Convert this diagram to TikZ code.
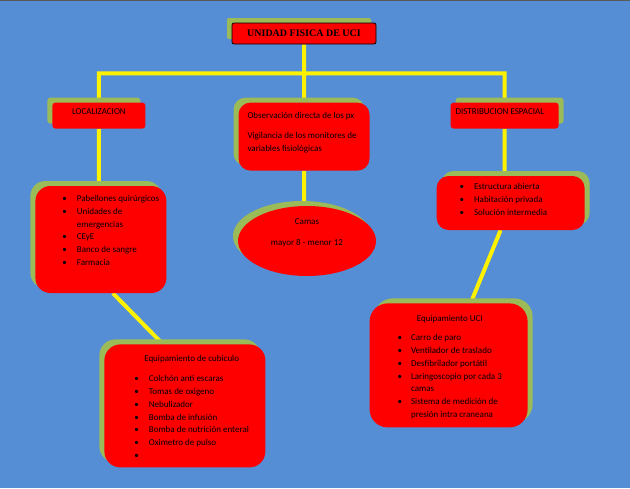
\documentclass[tikz,border=0pt]{standalone}
\usepackage{fontspec}
\setmainfont{Carlito}
\newfontfamily\titlefont{Liberation Serif}
\usetikzlibrary{positioning,shadows,backgrounds,shapes.geometric}
\definecolor{sky}{RGB}{85,142,213}
\definecolor{leaf}{RGB}{155,187,89}
\tikzset{shadow left/.style={general shadow={fill=leaf,draw=none,shadow xshift=-5pt,shadow yshift=5pt}},}
\tikzset{shadow right/.style={general shadow={fill=leaf,draw=none,shadow xshift=5pt,shadow yshift=5pt}},}
\tikzset{red box/.style={fill=red,inner sep=0pt},}
\tikzset{box text/.style={font=\fontsize{9}{12.7}\selectfont,inner sep=0pt,align=left},}
\tikzset{link/.style={draw=yellow,line width=4pt},}

\begin{document}
\begin{tikzpicture}[x=1pt,y=-1pt]
       \useasboundingbox (0,0) rectangle (630,488);

       \node[red box,shadow left,draw=black,line width=0.8pt,rounded corners=2pt,minimum width=144pt,minimum height=21pt,font=\titlefont\bfseries\fontsize{10}{12}\selectfont] (title) at (304,33.5) {UNIDAD FISICA DE UCI};

       \node[red box,shadow left,rounded corners=3pt,minimum width=93pt,minimum height=26pt] (loc) [below left=58pt and 86pt of title] {};
       \node[red box,shadow left,rounded corners=12pt,minimum width=131pt,minimum height=68pt] (obs) [below=58pt of title] {};
       \node[red box,shadow right,rounded corners=3pt,minimum width=108pt,minimum height=26pt] (dist) [below right=58pt and 74pt of title] {};

       \node[red box,shadow left,rounded corners=15pt,minimum width=131pt,minimum height=107pt] (loclist) [below=57pt of loc,xshift=2pt] {};
       \node[red box,shadow left,ellipse,minimum width=138pt,minimum height=70pt] (camas) [below=35pt of obs,xshift=3pt] {};
       \node[red box,shadow right,rounded corners=12pt,minimum width=148pt,minimum height=54pt] (distlist) [below=47pt of dist,xshift=6pt] {};

       \node[red box,shadow left,rounded corners=16pt,minimum width=161pt,minimum height=123pt] (cubic) [below=51pt of loclist,xshift=84pt] {};
       \node[red box,shadow right,rounded corners=18pt,minimum width=158pt,minimum height=124pt] (equip) [below=73pt of distlist,xshift=-62pt] {};

       % texts
       \node[box text] (loc text) at ([yshift=4pt]loc.center) {LOCALIZACION};
       \node[box text,anchor=west] (dist text) at ([xshift=5pt,yshift=-9pt]dist.north west) {DISTRIBUCION ESPACIAL};
       \node[box text,below right=10pt and 9pt of obs.north west] (obs text) {Observación directa de los px\\[7pt]Vigilancia de los monitores de\\variables fisiológicas};
       \node[box text,align=center] (camas text) at ([yshift=8pt]camas.center) {Camas\\[8pt]mayor 8 - menor 12};

       \node[box text,below right=7pt and 27pt of loclist.north west] (loclist text) {\begin{tabular}{@{}c@{\hspace{10pt}}l@{}}
         \textbullet & Pabellones quirúrgicos\\
         \textbullet & Unidades de\\
                     & emergencias\\
         \textbullet & CEyE\\
         \textbullet & Banco de sangre\\
         \textbullet & Farmacia
       \end{tabular}};
       \node[box text,below right=5pt and 23pt of distlist.north west] (distlist text) {\begin{tabular}{@{}c@{\hspace{10pt}}l@{}}
         \textbullet & Estructura abierta\\
         \textbullet & Habitación privada\\
         \textbullet & Solución intermedia
       \end{tabular}};
       \node[box text,below right=8pt and 30pt of cubic.north west] (cubic text) {\begin{tabular}{@{}c@{\hspace{10pt}}l@{}}
         \multicolumn{2}{c}{Equipamiento de cubiculo}\\[8pt]
         \textbullet & Colchón anti escaras\\
         \textbullet & Tomas de oxigeno\\
         \textbullet & Nebulizador\\
         \textbullet & Bomba de infusión\\
         \textbullet & Bomba de nutrición enteral\\
         \textbullet & Oximetro de pulso\\
         \textbullet &
       \end{tabular}};
       \node[box text,below right=9pt and 28pt of equip.north west] (equip text) {\begin{tabular}{@{}c@{\hspace{9pt}}l@{}}
         \multicolumn{2}{c}{Equipamiento UCI}\\[7pt]
         \textbullet & Carro de paro\\
         \textbullet & Ventilador de traslado\\
         \textbullet & Desfibrilador portátil\\
         \textbullet & Laringoscopio por cada 3\\
                     & camas\\
         \textbullet & Sistema de medición de\\
                     & presión intra craneana
       \end{tabular}};

       \begin{pgfonlayer}{background}
       \fill[sky] (0,0) rectangle (630,488);
       \draw[gray!70!black,line width=1.5pt] (0,0.5) -- (630,0.5);
       \draw[link]
       (title.south) -- (obs.north)
       (loc.north) |- ([yshift=-29pt]title.south) -| (dist.north)
       (obs.south) -- (obs.south |- camas.north)
       (loc.south) -- (loc.south |- loclist.north)
       (dist.south) -- (dist.south |- distlist.north)
       ([xshift=12pt]loclist.south) -- ([xshift=-22pt]cubic.north)
       ([xshift=-10pt]distlist.south) -- ([xshift=22pt]equip.north);
       \end{pgfonlayer}
\end{tikzpicture}
\end{document}
